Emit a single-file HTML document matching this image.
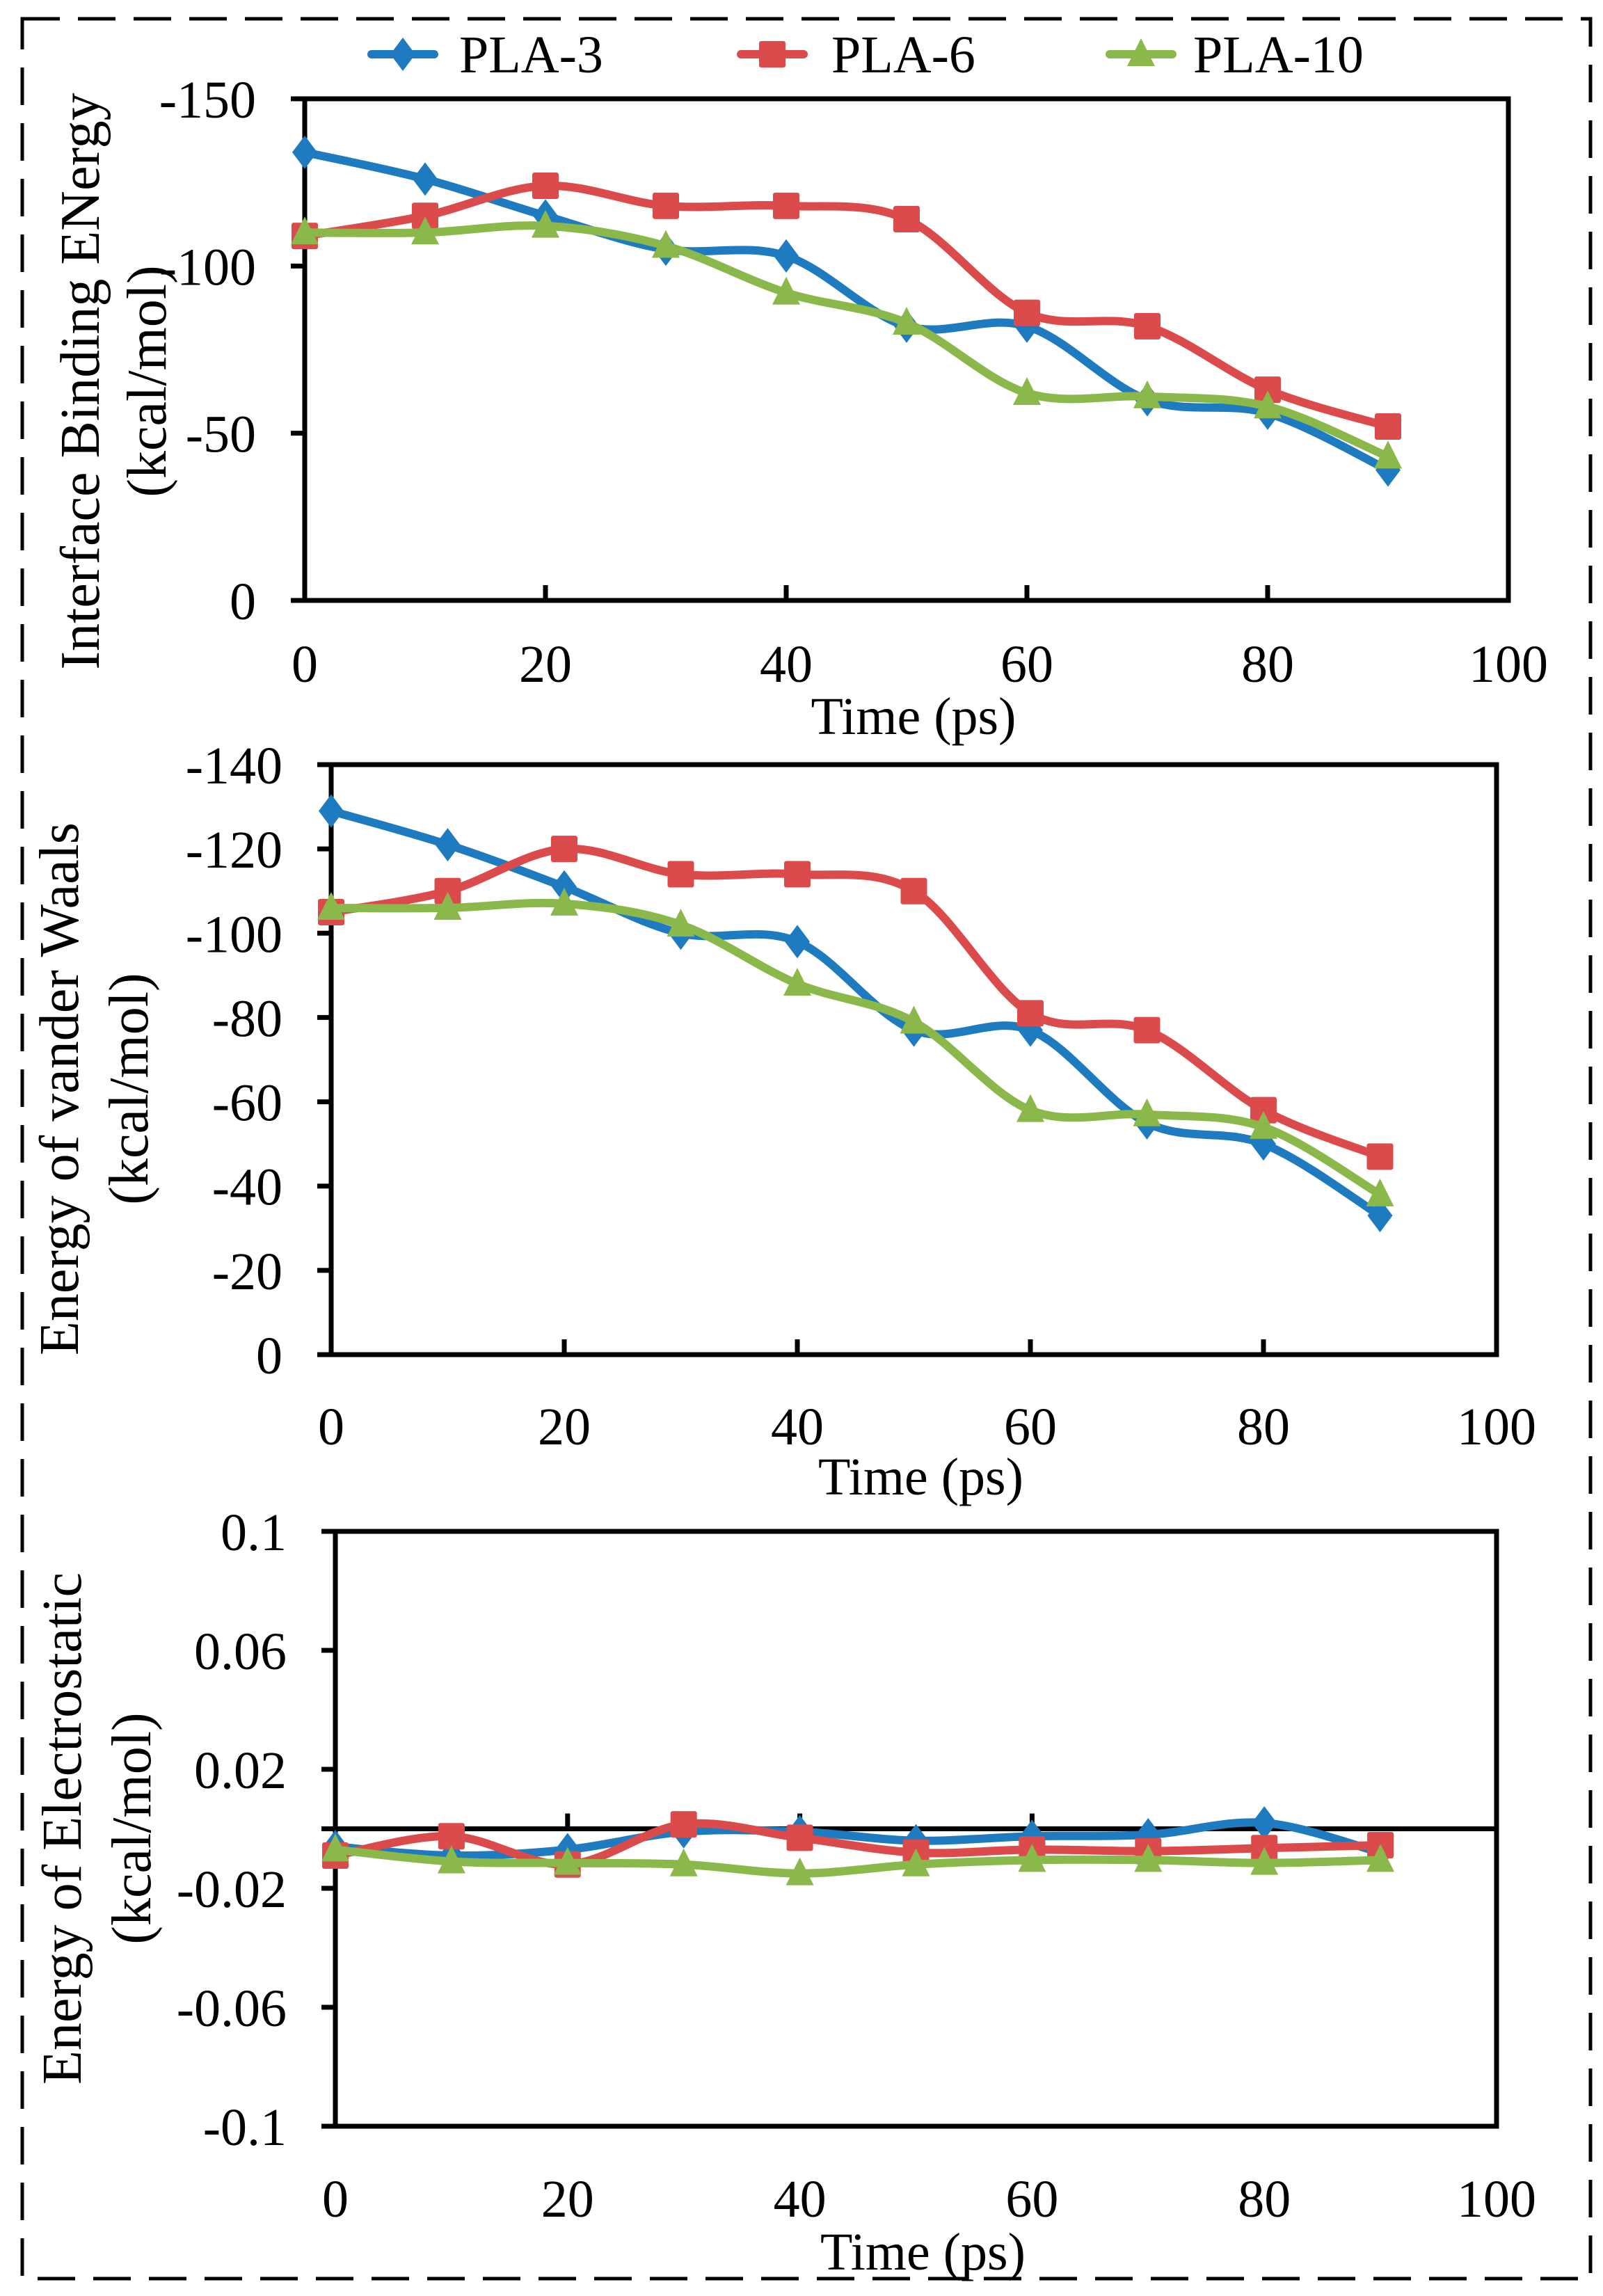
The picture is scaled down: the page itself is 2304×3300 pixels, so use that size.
<!DOCTYPE html>
<html><head><meta charset="utf-8">
<style>
html,body{margin:0;padding:0;background:#fff;}
svg{display:block;}
text{font-family:"Liberation Serif","DejaVu Serif",serif;fill:#000;}
</style></head>
<body>
<svg id="s" xmlns="http://www.w3.org/2000/svg" width="2304" height="3300" viewBox="0 0 2304 3300">
<rect x="32" y="27" width="2254" height="3248" fill="none" stroke="#000" stroke-width="5" stroke-dasharray="54 26"/>
</svg>
<script>
var s=document.getElementById('s');var NS='http://www.w3.org/2000/svg';
function el(t,a,txt){var e=document.createElementNS(NS,t);for(var k in a)e.setAttribute(k,a[k]);if(txt!==undefined)e.textContent=txt;s.appendChild(e);return e;}
var C={b:'#1f7bbf',r:'#dc4b4b',g:'#8ab84a'};
function marker(type,x,y){
 if(type==='b'){el('polygon',{points:(x)+','+(y-24)+' '+(x+18)+','+y+' '+x+','+(y+24)+' '+(x-18)+','+y,fill:C.b});}
 else if(type==='r'){el('rect',{x:x-19,y:y-19,width:38,height:38,rx:3,fill:C.r});}
 else {el('polygon',{points:x+','+(y-23)+' '+(x+20)+','+(y+17)+' '+(x-20)+','+(y+17),fill:C.g});}
}
function smooth(p){var d='M'+p[0][0]+','+p[0][1];for(var i=0;i<p.length-1;i++){var p0=p[i-1]||p[i],p1=p[i],p2=p[i+1],p3=p[i+2]||p2;var t=0.5/3;
d+=' C'+(p1[0]+(p2[0]-p0[0])*t)+','+(p1[1]+(p2[1]-p0[1])*t)+' '+(p2[0]-(p3[0]-p1[0])*t)+','+(p2[1]-(p3[1]-p1[1])*t)+' '+p2[0]+','+p2[1];}return d;}
function chart(o){
 var X=function(v){return o.l+(o.r-o.l)*v/100;};
 var Y=function(v){return o.t+(o.b-o.t)*(v-o.ymax)/(o.ymin-o.ymax);};
 el('rect',{x:o.l,y:o.t,width:o.r-o.l,height:o.b-o.t,fill:'none',stroke:'#000','stroke-width':7});
 var ax=Y(o.axis);
 el('line',{x1:o.l-20,y1:ax,x2:o.r,y2:ax,stroke:'#000','stroke-width':7});
 o.yt.forEach(function(t){var y=Y(t[0]);el('line',{x1:o.l-20,y1:y,x2:o.l,y2:y,stroke:'#000','stroke-width':7});
  el('text',{x:o.l-70,y:y+27,'text-anchor':'end','font-size':76},t[1]);});
 for(var v=0;v<=100;v+=20){el('line',{x1:X(v),y1:ax,x2:X(v),y2:ax-22,stroke:'#000','stroke-width':7});
  el('text',{x:X(v),y:o.xl,'text-anchor':'middle','font-size':76},String(v));}
 el('text',{x:(o.l+o.r)/2+10,y:o.xt,'text-anchor':'middle','font-size':76},'Time (ps)');
 el('text',{transform:'translate('+o.t1x+','+o.tc+') rotate(-90)','text-anchor':'middle','font-size':80},o.t1);
 el('text',{transform:'translate('+o.t2x+','+o.tc+') rotate(-90)','text-anchor':'middle','font-size':80},'(kcal/mol)');
 ['b','r','g'].forEach(function(k){var pts=o.d[k].map(function(v,i){return [X(i*10),Y(v)];});
  el('path',{d:smooth(pts),fill:'none',stroke:C[k],'stroke-width':12,'stroke-linejoin':'round'});
  pts.forEach(function(p){marker(k,p[0],p[1]);});});
}
chart({l:438,r:2168,t:142,b:863,ymax:-150,ymin:0,axis:0,
 yt:[[-150,'-150'],[-100,'-100'],[-50,'-50'],[0,'0']],xl:980,xt:1055,
 t1:'Interface Binding ENergy',t1x:142,t2x:238,tc:548,
 d:{b:[-134,-126,-115,-105,-103,-82,-82,-60,-56,-39],r:[-109,-115,-124,-118,-118,-114,-86,-82,-63,-52],g:[-110,-110,-112,-106,-92,-83,-62,-61,-58,-43]}});
chart({l:476,r:2151,t:1099,b:1947,ymax:-140,ymin:0,axis:0,
 yt:[[-140,'-140'],[-120,'-120'],[-100,'-100'],[-80,'-80'],[-60,'-60'],[-40,'-40'],[-20,'-20'],[0,'0']],xl:2076,xt:2148,
 t1:'Energy of vander Waals',t1x:112,t2x:212,tc:1565,
 d:{b:[-129,-121,-111,-100,-98,-77,-77,-55,-50,-33],r:[-105,-110,-120,-114,-114,-110,-81,-77,-58,-47],g:[-106,-106,-107,-102,-88,-79,-58,-57,-54,-38]}});
chart({l:482,r:2151,t:2201,b:3056,ymax:0.1,ymin:-0.1,axis:0,
 yt:[[0.1,'0.1'],[0.06,'0.06'],[0.02,'0.02'],[-0.02,'-0.02'],[-0.06,'-0.06'],[-0.1,'-0.1']],xl:3186,xt:3262,
 t1:'Energy of Electrostatic',t1x:116,t2x:216,tc:2628,
 d:{b:[-0.006,-0.009,-0.007,-0.001,-0.001,-0.004,-0.0025,-0.002,0.002,-0.008],r:[-0.009,-0.0025,-0.012,0.0015,-0.003,-0.008,-0.007,-0.0075,-0.0065,-0.0055],g:[-0.007,-0.011,-0.0115,-0.012,-0.015,-0.012,-0.0105,-0.0105,-0.0115,-0.0105]}});
[['b',579,660,'PLA-3'],['r',1110,1195,'PLA-6'],['g',1640,1715,'PLA-10']].forEach(function(l){
 el('line',{x1:l[1]-45,y1:78,x2:l[1]+45,y2:78,stroke:C[l[0]],'stroke-width':12,'stroke-linecap':'round'});
 marker(l[0],l[1],78);
 el('text',{x:l[2],y:104,'font-size':76},l[3]);});
</script>
</body></html>
